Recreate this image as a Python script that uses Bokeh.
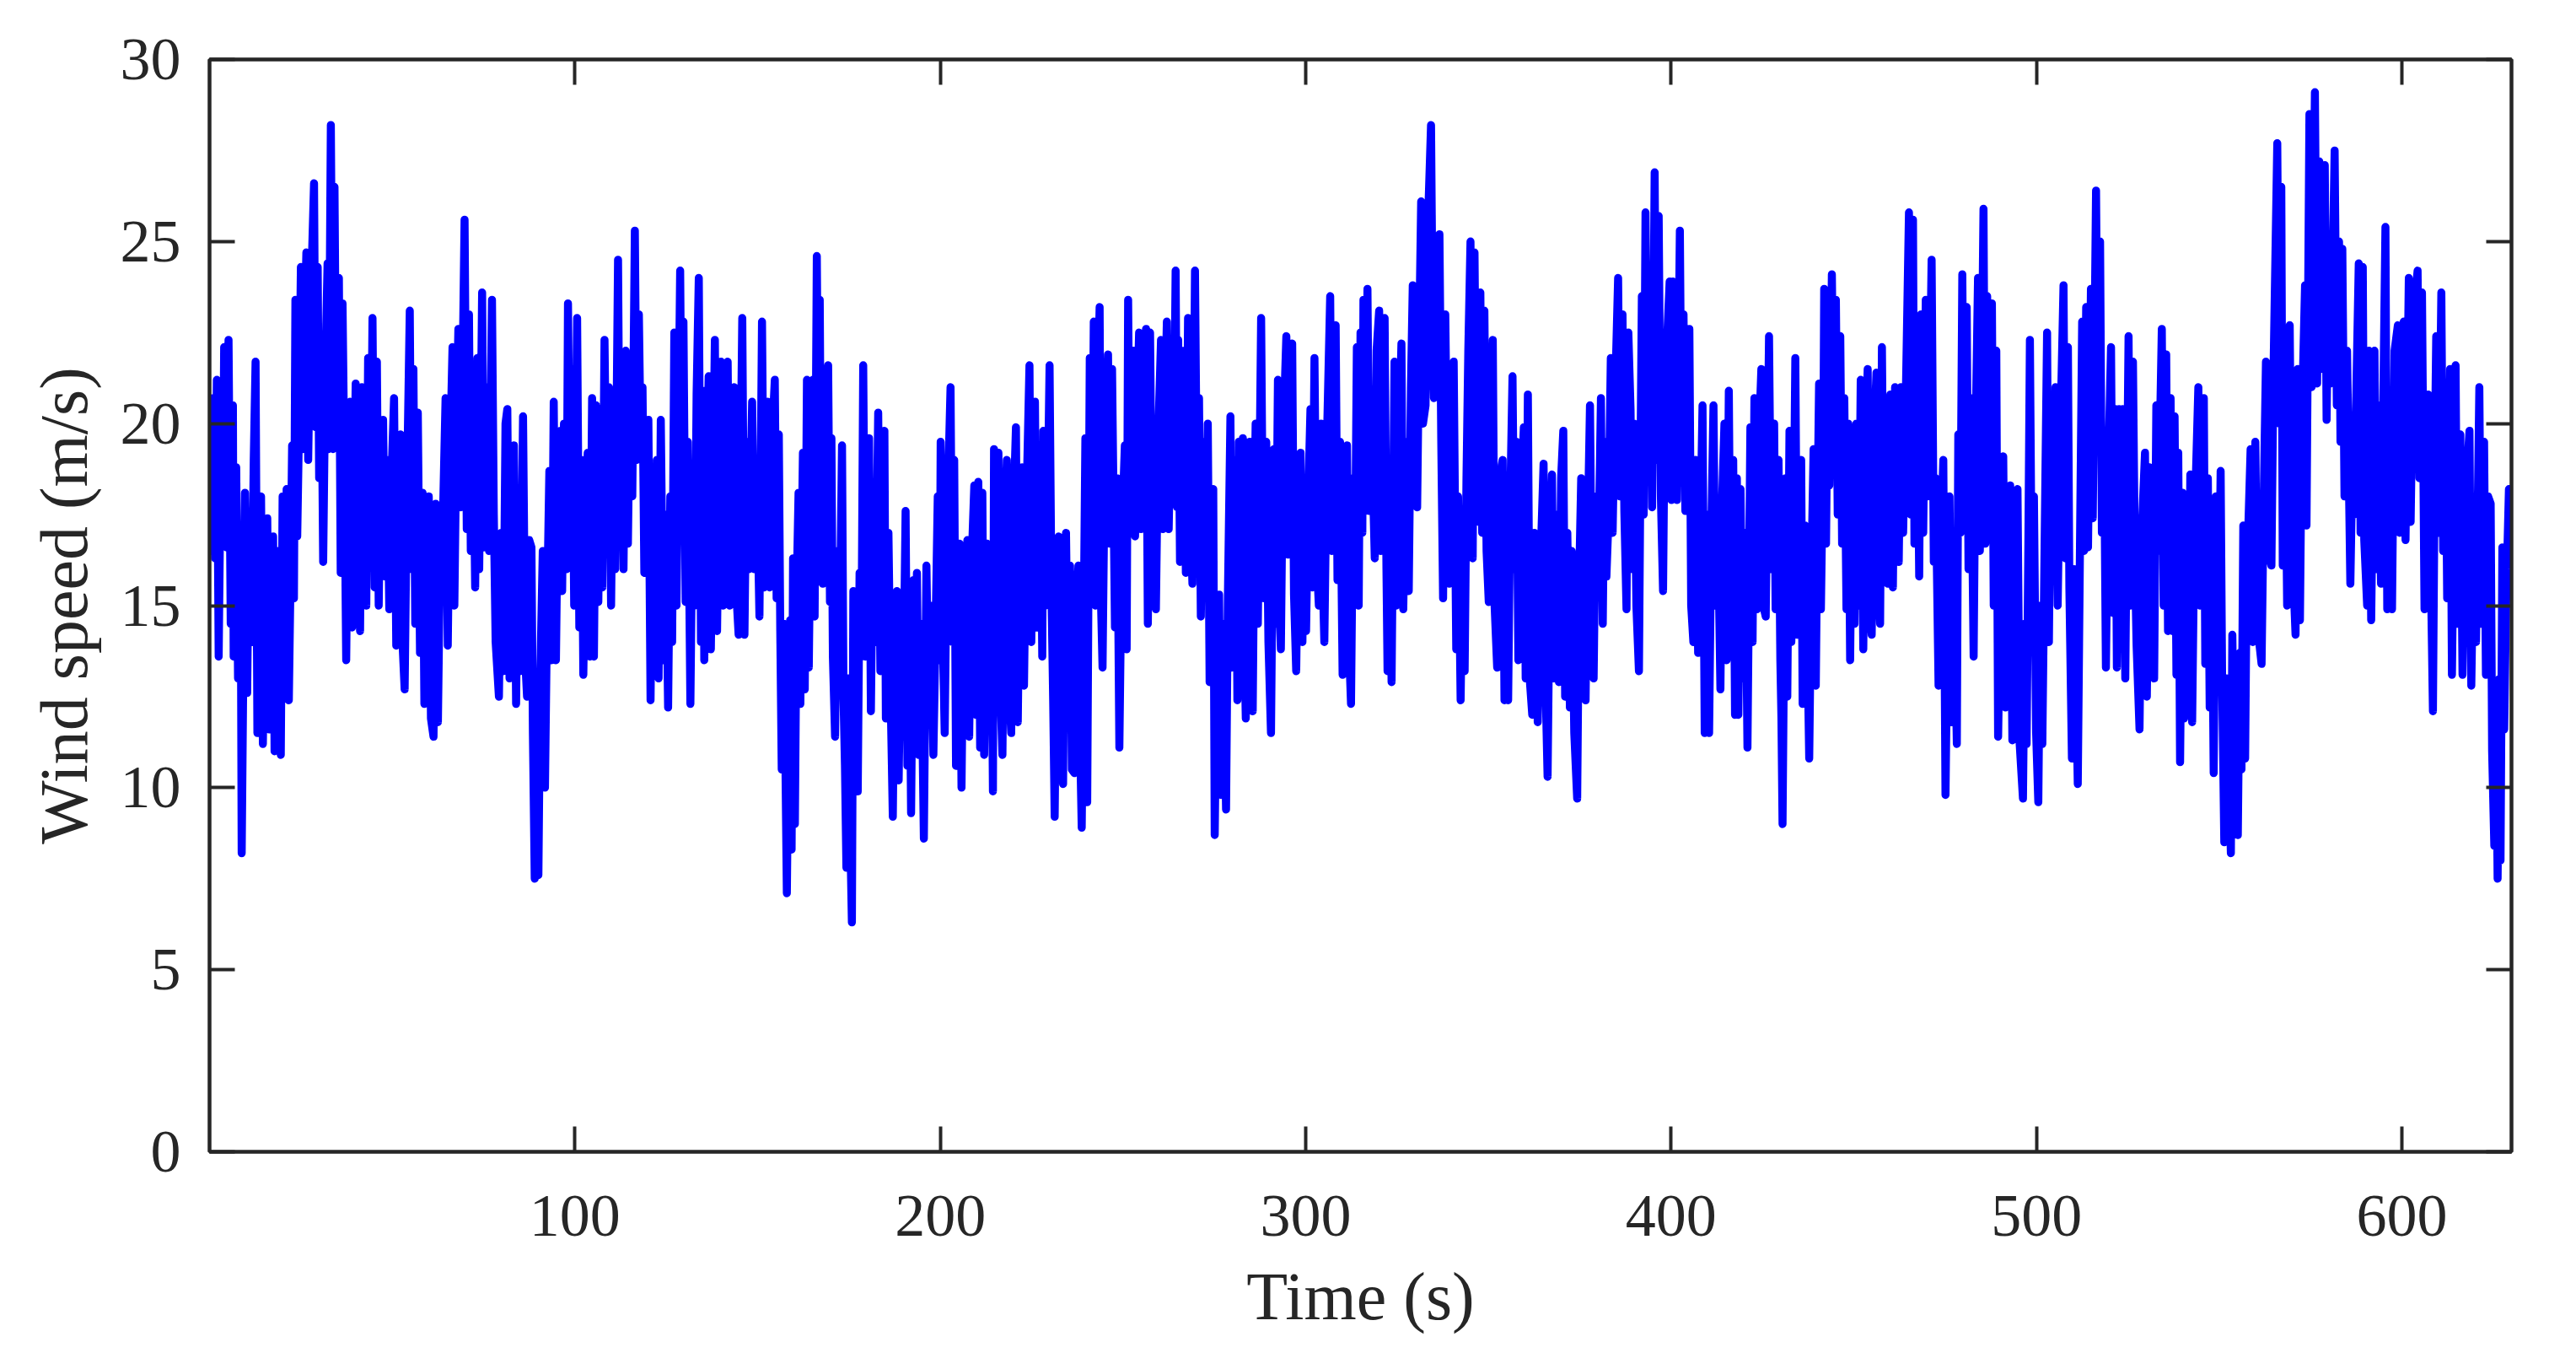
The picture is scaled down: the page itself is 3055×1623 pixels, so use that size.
from bokeh.plotting import figure
from bokeh.models import LinearAxis, FixedTicker, Range1d
from bokeh.embed import file_html
from bokeh.resources import INLINE

# (time [s], wind speed [m/s]) samples, in six stretches
segment_1 = [
    (0.0,20.0),(0.4,16.5),(0.9,20.7),(1.5,16.3),(2.0,21.2),(2.5,13.6),(3.0,18.5),(3.6,16.7),(4.0,22.1),(4.6,16.6),
    (5.2,22.3),(5.8,14.5),(6.4,20.5),(6.6,13.6),(7.3,18.8),(7.8,13.0),(8.5,17.0),(8.8,8.2),(9.4,15.0),(9.7,18.1),
    (10.3,12.6),(10.8,17.5),(11.5,14.0),(12.1,19.0),(12.6,21.7),(13.1,11.5),(13.6,16.0),(14.1,18.0),(14.6,11.2),(15.2,16.0),
    (15.8,17.4),(16.3,11.6),(16.8,15.5),(17.4,16.9),(17.8,11.0),(18.4,15.0),(18.8,16.5),(19.5,10.9),(20.0,18.0),(20.7,13.0),
    (21.1,18.2),(21.7,12.4),(22.2,16.0),(22.6,19.4),(23.1,15.2),(23.5,23.4),(24.0,16.9),(24.5,20.0),(25.0,24.3),(25.5,19.3),
    (26.0,22.5),(26.5,24.7),(27.0,19.0),(27.6,23.0),(28.6,26.6),(29.0,19.9),(29.6,24.3),(30.0,18.5),(30.6,22.0),(31.1,16.2),
    (31.7,21.5),(32.3,24.4),(32.6,19.3),(33.2,28.2),(33.8,19.3),(34.2,26.5),(34.7,19.5),(35.4,24.0),(35.9,15.9),(36.4,23.3),
    (37.0,18.0),(37.4,13.5),(38.0,19.0),(38.5,20.6),(39.0,14.4),(39.6,18.5),(40.0,21.1),(40.6,16.5),(41.2,14.3),(41.7,21.0),
    (42.3,16.0),(42.9,15.0),(43.4,21.8),(44.0,16.5),(44.6,22.9),(45.2,15.5),(45.8,21.7),(46.3,15.0),(46.9,19.5),(47.5,20.1),
    (48.0,15.8),(48.6,19.0),(49.2,14.9),(49.8,18.5),(50.5,20.7),(51.1,13.9),(51.7,18.0),(52.3,19.7),(52.8,14.0),(53.4,12.7),
    (54.0,18.0),(54.8,23.1),(55.3,16.0),(55.8,21.5),(56.3,14.5),(57.0,20.3),(57.6,13.7),(58.3,18.1),(58.8,12.3),(59.4,17.0),
    (60.0,18.0),(60.6,11.9),(61.3,11.4),(61.9,17.8),(62.5,11.8),(63.1,16.5),(63.9,17.5),(64.6,20.7),(65.2,13.9),(65.8,19.0),
    (66.5,22.1),(67.0,15.0),(67.6,20.0),(68.1,22.6),(68.7,17.7),(69.2,21.0),(69.8,25.6),(70.4,17.1),(71.0,23.0),(71.5,16.5),
    (72.0,21.0),(72.7,15.5),(73.3,21.8),(73.8,16.0),(74.6,23.6),(75.1,16.6),(75.8,21.0),(76.5,16.5),(77.3,23.4),(77.8,17.5),
    (78.3,14.0),(79.2,12.5),(79.8,17.0),(80.4,13.2),(81.0,20.0),(81.5,20.4),(82.1,13.0),(82.7,18.5),(83.3,19.4),(83.9,12.3),
    (84.5,18.0),(85.0,13.2),(85.8,20.2),(86.4,13.5),(86.9,12.5),(87.5,16.8),(88.1,16.6),(88.5,11.5),(89.0,7.5),(89.4,10.5),
    (90.0,7.6),(90.5,13.0),(91.2,16.5),(91.8,10.0),(92.4,15.0),(93.0,18.7),(93.6,13.5),(94.2,20.6),(94.8,13.5),(95.4,18.5),
    (96.0,19.8),(96.5,15.4),(97.0,20.0),(97.7,16.0),(98.1,23.3),(98.7,17.0),(99.2,21.5),(99.8,15.0),(100.6,22.9),(101.2,14.4),
    (101.8,19.0),(102.3,13.1),(103.0,18.0),(103.5,19.2),(104.1,13.6),(104.7,20.7),(105.2,13.6),
]

segment_2 = [
    (105.8,20.5),(106.4,15.1),(107.0,20.0),(107.5,15.5),(108.1,22.3),(108.7,17.0),(109.3,21.0),(109.9,15.0),(110.5,20.5),(111.0,16.0),
    (111.8,24.5),(112.3,17.0),(112.9,19.5),(113.3,16.0),(113.9,22.0),(114.5,16.7),(115.1,21.5),(115.7,18.0),(116.4,25.3),(116.9,19.0),
    (117.5,23.0),(118.0,19.3),(118.5,21.0),(119.0,15.9),(119.6,19.0),(120.1,20.1),(120.7,12.4),(121.3,18.5),(121.8,13.5),(122.4,19.0),
    (122.9,13.0),(123.5,20.1),(124.2,13.5),(124.8,17.5),(125.5,12.2),(126.1,18.0),(126.6,14.0),(127.2,22.5),(127.8,15.0),(128.8,24.2),
    (129.3,17.6),(129.7,22.8),(130.3,15.1),(130.9,19.5),(131.6,12.3),(132.2,18.0),(132.8,15.0),(133.3,20.8),(133.9,24.0),(134.5,14.0),
    (135.0,20.9),(135.4,13.5),(136.0,18.0),(136.6,21.3),(137.2,13.8),(137.8,18.5),(138.3,22.3),(138.9,14.3),(139.5,19.0),(140.0,21.7),
    (140.6,15.0),(141.3,19.5),(141.8,21.7),(142.4,15.0),(143.0,19.0),(143.6,21.0),(144.2,15.3),(144.8,14.2),(145.8,22.9),(146.4,14.2),
    (147.0,19.5),(147.6,16.0),(148.5,20.6),(149.1,16.0),(149.7,19.0),(150.5,14.7),(151.2,22.8),(151.8,15.5),(152.3,19.0),(152.8,20.6),
    (153.3,15.5),(153.9,19.5),(154.7,21.2),(155.2,15.2),(155.8,19.7),(156.2,14.3),(156.6,10.5),(157.2,14.5),(158.0,7.1),(158.5,12.0),
    (158.9,14.6),(159.3,8.3),(159.7,16.3),(160.2,9.0),(160.7,15.5),(161.2,18.1),(161.7,12.3),(162.1,17.0),(162.4,19.2),(162.9,12.7),
    (163.5,21.2),(164.0,13.3),(164.6,18.5),(165.1,21.2),(165.6,14.7),(166.2,24.6),(166.7,17.5),(167.0,23.4),(167.4,16.7),(167.8,15.6),
    (168.5,19.5),(169.3,21.6),(169.8,15.1),(170.2,19.6),(170.6,13.6),(171.2,11.4),(171.8,16.5),(172.5,14.5),(173.1,19.4),(173.5,12.5),
    (173.9,10.6),(174.3,7.8),(174.8,13.0),(175.3,9.0),(175.8,6.3),(176.2,15.4),(176.8,11.0),(177.4,9.9),(177.9,15.9),(178.4,13.6),
    (178.9,21.6),(179.5,13.6),(180.0,18.0),(180.5,19.6),(181.0,12.1),(181.6,17.6),(182.2,14.0),(183.0,20.3),(183.6,13.2),(184.2,18.0),
    (184.7,19.8),(185.1,11.9),(185.8,17.0),(186.4,12.5),(187.0,9.2),(187.6,15.0),(188.1,15.4),(188.6,10.2),(189.2,14.5),(189.8,12.0),
    (190.5,17.6),(191.0,10.6),(191.5,15.0),(192.0,9.3),(192.6,15.7),(193.1,12.0),(193.6,15.9),(194.1,10.9),(194.7,14.5),(195.5,8.6),
    (196.2,16.1),(196.8,12.0),(197.4,15.0),(198.1,10.9),(198.7,14.3),(199.3,18.0),(199.8,13.5),(200.1,19.5),(200.7,14.0),(201.2,11.5),
    (201.8,17.0),(202.8,21.0),(203.3,14.0),(203.8,19.0),(204.3,10.6),(204.9,15.0),(205.3,16.7),(205.8,10.0),(206.4,15.5),(206.9,12.5),
    (207.4,16.8),(207.9,11.4),(208.5,16.0),(209.3,18.3),(209.8,12.0),
]

segment_3 = [
    (210.4,18.4),(210.9,11.1),(211.5,18.1),(212.0,10.9),(212.8,16.7),(213.3,12.0),(213.9,16.0),(214.4,9.9),(214.7,19.3),(215.3,12.8),
    (215.9,19.2),(216.4,12.8),(217.0,10.9),(217.6,17.0),(218.2,19.0),(218.7,13.1),(219.4,11.5),(220.0,17.5),(220.7,19.9),(221.2,11.8),
    (221.8,17.0),(222.4,18.8),(222.9,12.8),(223.5,17.5),(224.4,21.6),(224.9,14.0),(225.4,19.5),(225.9,20.6),(226.4,14.4),(227.0,18.0),
    (227.4,19.2),(227.9,13.6),(228.2,19.8),(228.8,15.0),(229.4,18.0),(229.9,21.6),(230.4,15.5),(230.9,12.3),(231.3,9.2),(231.9,15.0),
    (232.4,16.9),(232.9,12.0),(233.6,10.1),(234.0,15.5),(234.4,17.0),(235.0,12.0),(235.5,16.1),(236.0,10.5),(236.7,10.4),(237.2,15.0),
    (237.8,16.1),(238.3,11.0),(238.7,8.9),(239.2,14.0),(239.7,19.6),(240.2,9.6),(240.9,21.8),(241.4,15.5),(242.0,22.8),(242.5,15.0),
    (243.0,20.5),(243.6,23.2),(244.0,15.0),(244.4,13.3),(245.0,19.0),(245.9,21.9),(246.4,16.7),(247.0,21.5),(247.8,14.4),(248.4,18.5),
    (249.0,11.1),(249.7,17.0),(250.5,19.4),(251.0,13.8),(251.4,23.4),(251.9,17.0),(252.4,21.0),(252.8,22.0),(253.3,16.9),(253.9,20.5),
    (254.4,22.5),(254.9,17.1),(255.6,21.0),(256.3,22.6),(256.8,14.5),(257.4,22.5),(257.9,17.2),(258.5,20.0),(259.0,14.9),(259.6,19.5),
    (260.4,22.3),(260.9,17.1),(261.5,20.5),(262.0,22.8),(262.5,17.1),(263.2,21.0),(263.8,18.0),(264.4,24.2),(264.8,17.7),(265.1,22.3),
    (265.6,16.2),(266.2,21.0),(266.7,22.0),(267.2,15.9),(267.8,22.9),(268.4,17.5),(269.0,15.6),(269.7,24.2),(270.3,17.0),(270.8,20.7),
    (271.3,14.7),(271.9,19.5),(272.6,16.0),(273.2,20.0),(273.7,12.9),(274.2,17.0),(274.7,18.2),(275.1,8.7),(275.7,14.0),(276.3,15.3),
    (276.8,9.8),(277.4,14.5),(278.2,9.4),(278.7,15.2),(279.4,20.2),(279.8,13.3),(280.3,18.0),(280.9,19.0),(281.3,12.4),(281.7,19.5),
    (282.2,13.5),(282.8,19.6),(283.2,14.0),(283.6,11.9),(284.2,17.0),(284.7,19.5),(285.1,13.5),(285.5,12.1),(286.0,18.0),(286.3,20.0),
    (286.9,14.5),(287.4,19.0),(287.8,22.9),(288.3,16.5),(288.6,15.2),(289.2,19.5),(289.8,14.0),(290.5,11.5),(291.0,17.0),(291.3,19.3),
    (291.8,14.5),(292.4,21.2),(292.8,15.0),(293.2,13.8),(293.8,19.5),(294.7,22.4),(295.2,16.4),(295.8,20.5),(296.3,22.2),(296.8,15.3),
    (297.4,13.2),(298.0,18.0),(298.6,19.2),(299.1,14.0),(299.6,18.5),(300.1,14.3),(300.7,18.0),(301.3,20.4),(301.8,15.5),(302.4,21.8),
    (302.9,16.5),(303.6,15.0),(304.2,20.0),(304.6,16.0),(305.1,14.0),(305.8,19.5),(306.7,23.5),(307.2,16.5),(307.7,21.0),(308.2,22.7),
    (308.7,15.7),(309.4,19.5),(310.1,13.1),(310.7,18.5),(311.3,19.4),(311.8,14.0),(312.4,12.3),(313.0,18.5),(313.5,16.0),(314.0,22.1),
]

segment_4 = [
    (314.5,15.0),(315.0,22.5),(315.5,17.0),(315.8,23.4),(316.3,17.6),(316.9,23.7),(317.4,17.6),(318.0,20.0),(318.9,16.3),(319.4,22.0),
    (320.1,23.1),(320.6,16.5),(321.2,20.5),(321.6,22.9),(322.1,16.0),(322.4,13.2),(323.0,18.5),(323.5,12.9),(324.3,21.7),(324.8,15.0),
    (325.4,19.0),(326.2,22.2),(326.7,14.9),(327.4,19.5),(328.2,15.4),(328.8,21.0),(329.3,23.8),(329.8,18.0),(330.5,17.7),(331.0,22.0),
    (331.6,26.1),(332.1,20.0),(332.8,20.5),(333.3,25.0),(334.3,28.2),(334.8,22.0),(335.1,20.7),(335.6,24.0),(336.6,25.2),(337.1,19.5),
    (337.6,15.2),(338.2,23.0),(338.8,18.0),(339.3,15.6),(339.8,20.0),(340.5,21.7),(341.0,16.0),(341.2,13.8),(341.7,18.0),(342.4,12.4),
    (343.0,17.0),(343.5,13.2),(344.0,18.5),(344.5,22.0),(345.1,25.0),(345.7,16.3),(346.2,24.7),(346.7,19.0),(347.4,17.3),(347.8,23.6),
    (348.3,17.0),(348.9,23.1),(349.5,16.5),(350.1,15.1),(350.6,20.0),(351.2,22.3),(351.7,15.0),(352.4,13.3),(353.0,18.5),(353.9,19.0),
    (354.4,12.4),(355.0,18.0),(355.4,12.4),(356.0,18.0),(356.6,21.3),(357.1,16.0),(357.7,19.5),(358.2,13.5),(358.9,18.0),(359.7,19.9),
    (360.2,13.0),(360.8,20.8),(361.3,13.0),(362.0,12.0),(362.6,17.0),(363.0,15.5),(363.5,11.8),(364.2,16.0),(365.1,18.9),(365.6,13.0),
    (366.2,10.3),(366.9,17.0),(367.4,18.6),(367.9,13.0),(368.5,17.5),(369.3,12.9),(369.9,18.5),(370.5,19.8),(371.0,12.5),(371.6,17.0),
    (372.3,12.2),(372.8,16.5),(373.5,11.5),(374.3,9.7),(374.8,15.5),(375.4,18.5),(375.9,13.0),(376.6,12.4),(377.0,16.0),(377.8,20.5),
    (378.3,15.0),(378.8,13.0),(379.4,18.0),(380.0,15.5),(380.8,20.7),(381.3,14.5),(381.8,19.5),(382.3,15.8),(382.9,17.5),(383.5,21.8),
    (384.0,17.0),(384.6,20.5),(385.5,24.0),(386.0,18.0),(386.7,23.0),(387.2,17.6),(387.8,14.9),(388.3,22.5),(388.9,20.4),(389.4,16.0),
    (389.9,20.0),(390.5,15.0),(391.2,13.2),(391.7,20.0),(392.0,23.5),(392.5,17.5),(393.0,25.8),(393.5,20.0),(394.2,24.0),(394.8,17.7),
    (395.5,26.9),(396.0,19.0),(396.6,25.7),(397.2,18.0),(397.8,15.4),(398.3,21.0),(399.0,22.5),(399.6,23.9),(400.1,17.9),(400.5,23.9),
    (401.0,18.5),(401.6,17.9),(402.4,25.3),(402.9,18.5),(403.4,23.0),(403.9,17.6),(404.4,19.5),(405.0,22.6),(405.5,15.0),(406.1,14.0),
    (406.7,19.0),(407.4,13.7),(408.0,17.0),(408.6,20.5),(409.2,11.5),(409.7,17.5),(410.4,11.5),(411.0,17.0),(411.6,20.5),(412.1,15.0),
    (413.0,16.0),(413.5,12.7),(414.0,18.0),(414.6,20.0),(415.2,13.5),(415.8,20.9),(416.3,14.0),(417.0,19.0),(417.5,12.0),
]

segment_5 = [
    (418.0,18.5),(418.4,12.0),(419.0,18.2),(419.6,13.0),(420.3,17.0),(420.9,11.1),(421.7,19.9),(422.3,14.0),(422.8,20.7),(423.5,14.9),
    (424.0,19.5),(424.7,21.5),(425.2,15.0),(425.9,14.7),(426.4,19.0),(426.8,22.4),(427.4,16.0),(428.2,20.0),(428.6,14.9),(429.4,19.0),
    (429.9,13.5),(430.2,11.9),(430.5,9.0),(431.0,15.0),(431.3,18.5),(431.8,12.5),(432.4,19.8),(432.9,14.0),(433.4,15.5),(434.0,21.8),
    (434.5,14.2),(435.0,17.5),(435.6,19.0),(436.0,12.3),(436.7,17.2),(437.3,14.0),(437.8,10.8),(438.4,16.0),(439.0,19.3),(439.6,12.8),
    (440.0,17.0),(440.5,21.1),(441.0,14.9),(441.7,20.0),(441.9,23.7),(442.4,16.7),(443.0,23.2),(443.3,18.3),(444.0,24.1),(444.6,18.8),
    (445.1,23.4),(445.6,17.5),(446.3,22.4),(446.8,16.7),(447.4,20.7),(448.0,14.9),(448.5,20.0),(449.0,13.5),(449.6,19.5),(450.2,14.5),
    (450.7,20.0),(451.3,15.0),(451.9,21.2),(452.6,13.8),(453.2,19.5),(453.8,21.5),(454.3,15.0),(454.9,14.2),(455.5,19.5),(456.2,21.4),
    (456.6,16.0),(457.2,14.5),(457.7,22.1),(458.2,16.0),(458.8,20.0),(459.3,15.6),(460.0,20.8),(460.7,15.5),(461.3,21.0),(461.8,17.0),
    (462.3,16.2),(462.9,21.0),(463.5,17.0),(464.2,20.5),(465.1,25.8),(465.6,17.5),(466.2,25.6),(466.6,16.7),(467.3,22.0),(467.9,15.8),
    (468.4,23.0),(469.0,17.0),(469.7,23.4),(470.2,18.0),(470.8,21.0),(471.3,24.5),(471.9,16.2),(472.4,18.5),(473.2,12.8),(473.7,16.5),
    (474.5,19.0),(475.1,9.8),(475.7,15.0),(476.2,18.0),(476.8,11.8),(477.4,16.0),(478.2,11.2),(478.6,19.7),(479.2,17.0),(479.7,24.1),
    (480.2,17.1),(480.9,23.2),(481.4,16.0),(482.0,20.7),(482.8,13.6),(483.3,19.5),(484.0,24.0),(484.5,16.5),(485.5,25.9),(486.0,16.7),
    (486.5,23.5),(487.0,18.0),(487.8,23.3),(488.3,15.0),(489.0,22.0),(489.5,11.4),(490.2,16.0),(490.9,19.1),(491.5,12.2),(492.0,17.5),
    (492.8,18.3),(493.4,11.3),(494.0,16.0),(494.8,18.2),(495.4,11.2),(496.3,9.7),(496.8,14.5),(497.3,11.2),(497.8,17.0),(498.2,22.3),
    (498.8,14.0),(499.3,18.0),(499.9,11.5),(500.5,9.6),(501.0,15.0),(501.6,11.2),(502.2,16.5),(502.9,22.5),(503.4,14.0),(504.0,20.5),
    (504.6,16.3),(505.2,21.0),(505.8,15.0),(506.4,19.1),(507.4,23.8),(507.9,16.3),(508.6,22.1),(509.0,15.5),(509.7,10.8),(510.3,16.0),
    (511.3,10.1),(511.9,16.6),(512.5,22.8),(513.0,16.5),(513.6,23.2),(514.1,16.6),(514.9,23.7),(515.4,17.4),(516.3,26.4),(516.8,19.6),
    (517.4,25.0),(517.9,17.0),(518.5,19.5),(519.0,13.3),(519.6,18.5),(520.4,22.1),(520.9,14.8),(521.6,20.4),
]

segment_6 = [
    (522.0,13.3),(522.6,20.4),(523.1,14.8),(523.6,20.4),(524.3,13.0),(525.2,22.4),(525.7,15.0),(526.4,21.7),(526.9,16.5),(527.4,13.9),
    (528.2,11.6),(528.8,17.0),(529.7,19.2),(530.2,12.5),(530.9,18.8),(531.4,14.4),(532.2,13.0),(532.8,20.5),(533.2,16.5),(534.3,22.6),
    (534.8,15.0),(535.5,21.9),(536.0,14.3),(536.7,20.7),(537.2,14.3),(537.8,20.2),(538.3,13.1),(538.8,19.2),(539.3,10.7),(540.0,18.1),
    (540.4,11.9),(541.0,16.0),(541.6,12.9),(542.1,18.6),(542.6,11.8),(543.2,17.0),(544.3,21.0),(544.8,15.0),(545.8,20.7),(546.2,13.4),
    (546.9,18.5),(547.4,12.2),(548.0,16.0),(548.5,10.4),(549.1,18.0),(549.7,12.9),(550.4,18.7),(550.8,13.0),(551.4,8.5),(552.0,13.0),
    (553.2,8.2),(553.6,14.2),(554.3,9.0),(555.1,8.7),(555.6,13.7),(556.1,10.5),(556.6,17.2),(557.1,10.8),(557.5,15.5),(558.6,19.3),
    (559.2,14.0),(559.9,19.5),(560.4,14.5),(561.6,13.4),(562.2,18.0),(562.8,21.7),(563.3,16.5),(564.3,16.1),(564.8,21.0),(565.9,27.7),
    (566.4,20.0),(567.0,26.5),(567.4,16.1),(568.1,20.0),(568.6,15.0),(569.3,22.7),(569.8,17.0),(570.9,14.2),(571.5,21.5),(572.1,14.6),
    (572.6,20.0),(573.5,23.8),(573.9,17.2),(574.7,28.5),(575.3,21.0),(576.2,29.1),(576.8,21.1),(577.4,27.2),(577.9,21.5),(578.9,27.1),
    (579.4,20.1),(580.0,25.0),(580.5,21.1),(581.6,27.5),(582.2,20.5),(582.8,25.0),(583.2,19.5),(583.7,24.8),(584.3,18.0),(585.0,22.0),
    (585.9,15.6),(586.5,19.2),(586.9,17.5),(588.2,24.4),(588.7,17.0),(589.3,24.3),(589.7,16.8),(590.5,15.0),(591.0,22.0),(591.6,14.6),
    (592.5,22.0),(593.0,16.0),(593.4,20.5),(594.3,15.6),(595.5,25.4),(596.0,14.9),(596.6,19.5),(597.3,14.9),(598.0,22.0),(598.9,22.7),
    (599.4,17.0),(600.5,22.8),(601.0,16.8),(601.9,24.0),(602.4,17.3),(603.2,23.0),(604.3,24.2),(604.8,18.5),(605.5,23.6),(606.2,14.9),
    (607.2,20.8),(608.5,12.1),(609.0,19.0),(609.4,22.4),(610.0,17.0),(610.8,23.6),(611.3,16.5),(612.0,20.0),(612.4,15.2),(613.2,21.5),
    (613.7,13.1),(614.7,21.6),(615.2,14.5),(616.0,19.7),(616.6,13.1),(617.4,18.0),(618.5,19.8),(619.0,12.8),(619.8,18.0),(620.3,14.0),
    (621.2,21.0),(621.7,14.5),(622.5,19.5),(623.0,13.1),(623.6,18.0),(624.3,17.8),(624.7,11.0),(625.3,8.4),(625.8,12.0),(626.2,7.5),
    (626.7,13.0),(627.0,8.0),(627.5,16.6),(628.0,11.6),(628.5,15.0),(629.3,18.2),(629.8,16.0),
]

x_ticks = [100, 200, 300, 400, 500, 600]
y_ticks = [0, 5, 10, 15, 20, 25, 30]
x_label = "Time (s)"
y_label = "Wind speed (m/s)"

samples = segment_1 + segment_2 + segment_3 + segment_4 + segment_5 + segment_6
time_s = [s[0] for s in samples]
wind_ms = [s[1] for s in samples]

AX = "#262626"
FONT = "Liberation Serif"

p = figure(width=3039, height=1607, output_backend="svg", toolbar_location=None,
           x_range=Range1d(0, 630), y_range=Range1d(0, 30),
           min_border_left=248, min_border_right=61, min_border_top=70, min_border_bottom=242)
p.background_fill_color = "white"
p.border_fill_color = "white"
p.xgrid.visible = False
p.ygrid.visible = False
p.outline_line_color = AX
p.outline_line_width = 4

p.line(time_s, wind_ms, line_color="#0000FF", line_width=9.5, line_join="round")

def style(ax, ticks, show_labels):
    ax.ticker = FixedTicker(ticks=ticks)
    ax.axis_line_color = AX
    ax.axis_line_width = 4
    ax.major_tick_line_color = AX
    ax.major_tick_line_width = 4
    ax.major_tick_in = 30
    ax.major_tick_out = 0
    ax.minor_tick_line_color = None
    ax.major_label_text_font = FONT
    ax.major_label_text_color = AX
    ax.axis_label_text_font = FONT
    ax.axis_label_text_font_style = "normal"
    ax.axis_label_text_color = AX
    ax.axis_label_text_font_size = "80px"
    if show_labels:
        ax.major_label_text_font_size = "72px"
        ax.major_label_standoff = 34
    else:
        ax.major_label_text_font_size = "0px"
        ax.major_label_text_alpha = 0
        ax.major_label_standoff = 0

style(p.xaxis[0], x_ticks, True)
style(p.yaxis[0], y_ticks, True)
p.xaxis[0].major_label_standoff = 52
p.xaxis[0].axis_label = x_label
p.yaxis[0].axis_label = y_label
p.xaxis[0].axis_label_standoff = 25
p.yaxis[0].axis_label_standoff = 20

top = LinearAxis()
style(top, x_ticks, False)
p.add_layout(top, "above")
right = LinearAxis()
style(right, y_ticks, False)
p.add_layout(right, "right")

open("out.html", "w").write(file_html(p, INLINE))
